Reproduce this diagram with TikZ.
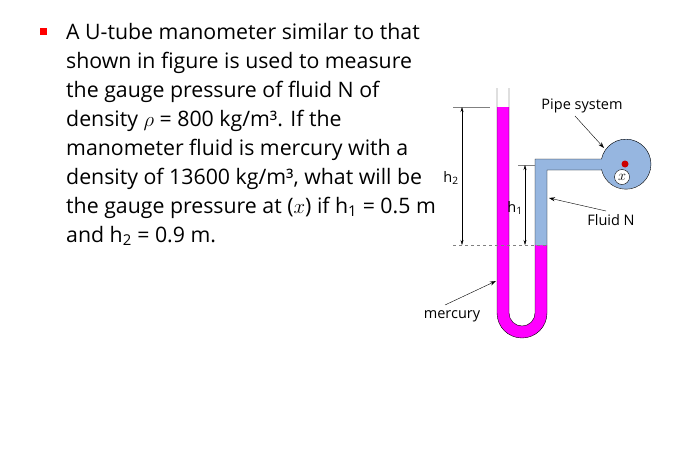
\documentclass[tikz,border=0pt]{standalone}
\usepackage{fontspec}
\setmainfont{Open Sans}
\usetikzlibrary{arrows.meta}
\definecolor{mag}{RGB}{255,0,255}
\definecolor{blu}{RGB}{150,182,224}
\begin{document}
\begin{tikzpicture}[x=1pt,y=-1pt,
  txt/.style={anchor=base west,inner sep=0,font=\fontsize{21.3}{24}\selectfont},
  lbl/.style={inner sep=1pt,font=\fontsize{14.5}{16}\selectfont},
  dim/.style={{Stealth[length=5pt,width=3pt]}-{Stealth[length=5pt,width=3pt]},thin},
  ptr/.style={-{Stealth[length=6pt,width=4pt]},thin}]
\useasboundingbox (0,0) rectangle (700,450);
% text
\fill[red] (40,28) rectangle (47,35);
\node[txt] (l1) at (66,39) {A U-tube manometer similar to that};
\node[txt] (l2) at (66,68) {shown in figure is used to measure};
\node[txt] (l3) at (66,97) {the gauge pressure of fluid N of};
\node[txt] (l4) at (66,126) {density $\rho$ = 800 kg/m³. If the};
\node[txt] (l5) at (66,155) {manometer fluid is mercury with a};
\node[txt] (l6) at (66,184) {density of 13600 kg/m³, what will be};
\node[txt] (l7) at (66,213) {the gauge pressure at ($x$) if h\textsubscript{1} = 0.5 m};
\node[txt] (l8) at (66,242) {and h\textsubscript{2} = 0.9 m.};
% manometer fluids
\fill[mag] (497,107) -- (509,107) -- (509,313) arc[start angle=180,end angle=0,radius=13] -- (535,245) -- (547,245) -- (547,313) arc[start angle=0,end angle=180,radius=25] -- cycle;
\fill[blu] (535,245) -- (535,159) -- (605,159) -- (605,170) -- (547,170) -- (547,245) -- cycle;
\fill[blu] (626,164) circle[radius=25];
% outlines
\draw[thin] (497,88) -- (497,313) arc[start angle=180,end angle=0,radius=25] -- (547,170) -- (601.5,170);
\draw[thin] (509,88) -- (509,313) arc[start angle=180,end angle=0,radius=13] -- (535,159) -- (601.5,159);
\draw[thin] (601.5,159) arc[start angle=-168,end angle=168,radius=25] ;
% dims
\draw[dashed,gray] (453,245) -- (547,245);
\draw[thin,gray] (453,107) -- (490,107);
\draw[thin,gray] (518,165) -- (535,165);
\coordinate (a2) at (462,107); \coordinate (b2) at (462,245);
\draw[dim] (a2) -- (b2);
\coordinate (a1) at (525,165); \coordinate (b1) at (525,245);
\draw[dim] (a1) -- (b1);
\node[lbl,fill=white] (h2) at (451,178) {h\textsubscript{2}};
\node[lbl] (h1) at (515,208) {h\textsubscript{1}};
% pipe point
\fill[red!80!black] (625,164) circle[radius=3.5];
\node[draw,circle,fill=white,inner sep=0,minimum size=15pt,font=\fontsize{15}{16}\selectfont] (x) at (622,177) {$x$};
% labels
\node[lbl] (ps) at (582,106) {Pipe system};
\coordinate (pst) at (604,148);
\draw[ptr] (575,116) -- (pst);
\node[lbl] (fn) at (611,220) {Fluid N};
\coordinate (fnt) at (549,198);
\draw[ptr] (606,211) -- (fnt);
\node[lbl] (hg) at (452,316) {mercury};
\coordinate (hgt) at (496,281);
\draw[ptr] (445,305) -- (hgt);
\end{tikzpicture}
\end{document}
